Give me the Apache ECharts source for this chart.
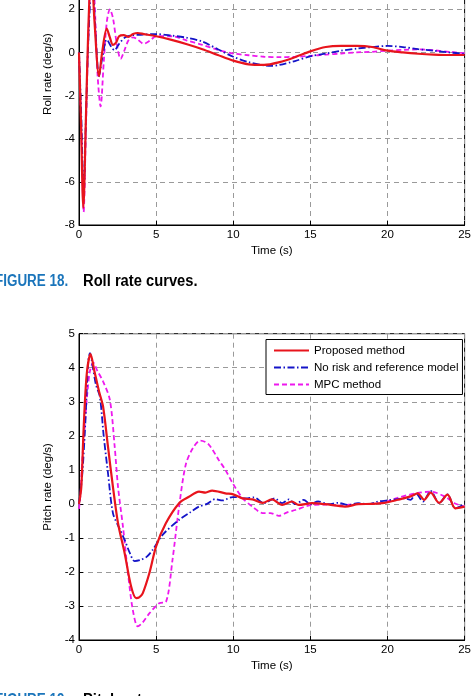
<!DOCTYPE html>
<html>
<head>
<meta charset="utf-8">
<script src="https://cdn.jsdelivr.net/npm/echarts@6/dist/echarts.min.js"></script>
<style>
html,body{margin:0;padding:0;background:#fff;overflow:hidden;width:474px;height:696px;}
#wrap{position:relative;width:474px;height:696px;overflow:hidden;}
/* the figure is cropped at its top: the chart canvas starts 83px above the window */
#c{position:absolute;left:0;top:-83px;width:474px;height:779px;}
</style>
</head>
<body>
<div id="wrap"><div id="c"></div></div>
<script>
// ---- Data: [time (s), rate (deg/s)] ----
var seriesNames = ['Proposed method', 'No risk and reference model', 'MPC method'];
var xTicks = [0, 5, 10, 15, 20, 25];
var rollTicks = [-8, -6, -4, -2, 0, 2, 4, 6];
var pitchTicks = [-4, -3, -2, -1, 0, 1, 2, 3, 4, 5];

var rollProposed = [[0,0],[0.12,-3],[0.28,-7.2],[0.45,-3],[0.6,1],[0.8,4.0],[1.0,1.5],[1.3,-1.1],[1.5,0],[1.8,1.1],[2.0,0.7],[2.2,0.35],[2.4,0.45],[2.6,0.75],[2.9,0.8],[3.2,0.72],[3.5,0.85],[3.8,0.9],[4.2,0.85],[5,0.75],[6,0.58],[7,0.38],[8,0.15],[9,-0.12],[10,-0.38],[11,-0.55],[12,-0.58],[13,-0.45],[14,-0.22],[15,0.05],[16,0.25],[17,0.3],[18,0.3],[19,0.25],[20,0.08],[21,0.0],[22,-0.06],[23,-0.1],[24,-0.12],[25,-0.12]];
var rollNoRisk = [[0,0],[0.15,-3],[0.3,-6.6],[0.45,-3],[0.6,0.5],[0.85,3.5],[1.05,1.2],[1.3,-1.1],[1.5,-0.3],[1.8,0.6],[2.1,0.25],[2.3,0.1],[2.6,0.4],[3.0,0.7],[3.5,0.8],[4,0.82],[5,0.85],[6,0.78],[7,0.68],[8,0.5],[9,0.15],[10,-0.2],[11,-0.45],[12,-0.6],[12.5,-0.62],[13,-0.58],[14,-0.4],[15,-0.18],[16,-0.05],[17,0.08],[18,0.18],[19,0.25],[20,0.3],[21,0.25],[22,0.15],[23,0.08],[24,0.0],[25,-0.06]];
var rollMPC = [[0,0],[0.15,-3.5],[0.3,-7.4],[0.45,-3.5],[0.6,0.5],[0.8,4.2],[1.0,2.5],[1.2,-1],[1.4,-2.5],[1.6,-0.5],[1.8,1.4],[2.0,2.0],[2.2,1.6],[2.45,0.4],[2.7,-0.3],[2.95,0.1],[3.2,0.55],[3.5,0.7],[3.8,0.6],[4.2,0.4],[4.6,0.55],[5,0.75],[6,0.75],[7,0.55],[8,0.35],[9,0.12],[10,-0.05],[11,-0.13],[12,-0.2],[13,-0.22],[14,-0.2],[15,-0.16],[16,-0.1],[17,-0.05],[18,0.0],[19,0.03],[20,0.08],[21,0.12],[22,0.14],[23,0.1],[24,0.02],[25,-0.03]];

var pitchProposed = [[0,0],[0.15,0.5],[0.3,2.2],[0.5,3.8],[0.75,4.4],[1.0,3.9],[1.3,3.3],[1.56,2.86],[1.88,1.68],[2.2,0.5],[2.53,-0.57],[2.96,-1.45],[3.38,-2.43],[3.7,-2.77],[3.9,-2.75],[4.13,-2.63],[4.56,-2.04],[5.0,-1.25],[5.63,-0.57],[6.49,0.02],[7.1,0.2],[7.78,0.36],[8.2,0.33],[8.63,0.39],[9.49,0.31],[10,0.28],[10.6,0.16],[11.25,0.13],[11.9,0.03],[12.5,0.13],[13.17,-0.03],[13.8,0.07],[14.24,-0.03],[15.1,0.02],[15.96,-0.01],[17.25,-0.08],[18.1,-0.01],[18.96,0.0],[19.81,0.03],[20.67,0.12],[21.5,0.22],[21.95,0.31],[22.38,0.12],[22.8,0.33],[23.35,0.03],[23.89,0.27],[24.4,-0.13],[25,-0.08]];
var pitchNoRisk = [[0,0],[0.2,0.8],[0.39,2.2],[0.6,4.2],[0.71,4.43],[0.9,4.0],[1.1,3.5],[1.35,3.16],[1.6,2.0],[1.88,0.9],[2.2,-0.27],[2.6,-0.7],[2.96,-1.06],[3.3,-1.45],[3.6,-1.68],[3.98,-1.65],[4.4,-1.55],[4.78,-1.35],[5.42,-0.91],[6.49,-0.47],[7.2,-0.25],[7.78,-0.08],[8.3,0.0],[8.85,0.14],[9.3,0.1],[9.96,0.2],[10.35,0.2],[10.8,0.16],[11.35,0.19],[11.99,0.02],[12.7,0.16],[13.17,0.02],[13.6,0.13],[14.03,-0.01],[14.57,0.12],[14.99,-0.01],[15.5,0.07],[16.17,-0.01],[16.81,0.03],[17.46,-0.03],[18.1,0.02],[18.75,-0.01],[19.38,0.07],[20.0,0.1],[20.67,0.14],[21.1,0.16],[21.5,0.12],[21.85,0.31],[22.3,0.07],[22.8,0.38],[23.35,0.02],[23.89,0.28],[24.4,-0.13],[25,0.0]];
var pitchMPC = [[0,-0.15],[0.1,0.3],[0.2,1.2],[0.39,2.4],[0.55,3.3],[0.71,3.9],[0.92,4.15],[1.2,3.9],[1.56,3.6],[2.0,3.06],[2.31,1.7],[2.53,0.5],[2.85,-0.67],[3.2,-2.14],[3.49,-3.12],[3.81,-3.6],[4.1,-3.5],[4.56,-3.22],[5.2,-2.92],[5.64,-2.88],[6.06,-1.65],[6.49,-0.08],[6.92,1.15],[7.4,1.65],[7.88,1.86],[8.4,1.75],[9.06,1.29],[9.49,1.0],[9.96,0.61],[10.6,0.17],[11.3,-0.1],[11.9,-0.27],[12.4,-0.27],[12.96,-0.35],[13.5,-0.25],[14.03,-0.18],[15.1,-0.03],[16,-0.02],[17,-0.05],[18,0.0],[19,0.0],[19.8,0.05],[20.67,0.18],[21.74,0.3],[22.8,0.36],[23.7,0.22],[24.35,0.02],[25,-0.08]];

// ---- Styling ----
var FONT = '"Liberation Sans", Arial, sans-serif';
var CAP_FONT = 'bold 16px "Liberation Sans", Arial, sans-serif';
var colors = ['#e8141c', '#1414c8', '#ee18ee'];
var lineTypes = ['solid', [7, 2.5, 1.5, 2.5], [5, 3]];
var widths = [2.2, 1.8, 1.8];
var gridDash = { color: '#9a9a9a', width: 1, type: [5, 4] };

function xAxisFor(gi) {
  return {
    gridIndex: gi, type: 'value', min: xTicks[0], max: xTicks[xTicks.length - 1], interval: 5,
    name: 'Time (s)', nameLocation: 'middle', nameGap: 20,
    nameTextStyle: { color: '#000', fontSize: 11.5, fontFamily: FONT },
    axisLine: { show: true, onZero: false, lineStyle: { color: '#000', width: 1 } },
    axisTick: { show: true, inside: true, length: 4, lineStyle: { color: '#000' } },
    axisLabel: { color: '#000', fontSize: 11.5, fontFamily: FONT, margin: 4 },
    splitLine: { show: true, lineStyle: gridDash }
  };
}
function yAxisFor(gi, name, ticks) {
  return {
    gridIndex: gi, type: 'value', min: ticks[0], max: ticks[ticks.length - 1], interval: ticks[1] - ticks[0],
    name: name, nameLocation: 'middle', nameGap: 15, nameRotate: 90,
    nameTextStyle: { color: '#000', fontSize: 11.5, fontFamily: FONT },
    axisLine: { show: true, onZero: false, lineStyle: { color: '#000', width: 1 } },
    axisTick: { show: true, inside: true, length: 4, lineStyle: { color: '#000' } },
    axisLabel: { color: '#000', fontSize: 11.5, fontFamily: FONT, margin: 4 },
    splitLine: { show: true, lineStyle: gridDash }
  };
}
function mk(name, data, idx, gi) {
  return {
    name: name, type: 'line', xAxisIndex: gi, yAxisIndex: gi, data: data,
    symbol: 'none', showSymbol: false, smooth: 0.3, animation: false,
    lineStyle: { color: colors[idx], width: widths[idx], type: lineTypes[idx] },
    itemStyle: { color: colors[idx] }, z: 5 - idx
  };
}

var OFF = 83; // canvas offset above the window
var chart = echarts.init(document.getElementById('c'), null, { renderer: 'canvas' });
chart.setOption({
  animation: false,
  backgroundColor: '#fff',
  grid: [
    { left: 79, right: 7, top: OFF - 82.7, height: 307.7, show: true, borderColor: '#000', borderWidth: 1, containLabel: false },
    { left: 79, right: 7, top: OFF + 333.7, height: 306.3, show: true, borderColor: '#000', borderWidth: 1, containLabel: false }
  ],
  xAxis: [xAxisFor(0), xAxisFor(1)],
  yAxis: [yAxisFor(0, 'Roll rate (deg/s)', rollTicks), yAxisFor(1, 'Pitch rate (deg/s)', pitchTicks)],
  legend: {
    data: seriesNames, orient: 'vertical', left: 266, top: OFF + 339.5,
    backgroundColor: '#fff', borderColor: '#000', borderWidth: 1, borderRadius: 0,
    padding: [5, 4, 4, 7], itemWidth: 35, itemHeight: 14, itemGap: 5,
    itemStyle: { opacity: 0 },
    textStyle: { color: '#000', fontSize: 11.5, fontFamily: FONT },
    selectedMode: false
  },
  series: [
    mk(seriesNames[0], rollProposed, 0, 0),
    mk(seriesNames[1], rollNoRisk, 1, 0),
    mk(seriesNames[2], rollMPC, 2, 0),
    mk(seriesNames[0], pitchProposed, 0, 1),
    mk(seriesNames[1], pitchNoRisk, 1, 1),
    mk(seriesNames[2], pitchMPC, 2, 1)
  ],
  graphic: [
    { type: 'text', x: -5, y: OFF + 282, scaleX: 0.84, style: { text: 'FIGURE 18.', fill: '#1b75bb', font: CAP_FONT, verticalAlign: 'middle' } },
    { type: 'text', x: 83, y: OFF + 282, scaleX: 0.92, style: { text: 'Roll rate curves.', fill: '#000', font: CAP_FONT, verticalAlign: 'middle' } },
    { type: 'text', x: -5, y: OFF + 701, scaleX: 0.84, style: { text: 'FIGURE 19.', fill: '#1b75bb', font: CAP_FONT, verticalAlign: 'middle' } },
    { type: 'text', x: 83, y: OFF + 701, scaleX: 0.92, style: { text: 'Pitch rate curves.', fill: '#000', font: CAP_FONT, verticalAlign: 'middle' } }
  ]
});
</script>
</body>
</html>
